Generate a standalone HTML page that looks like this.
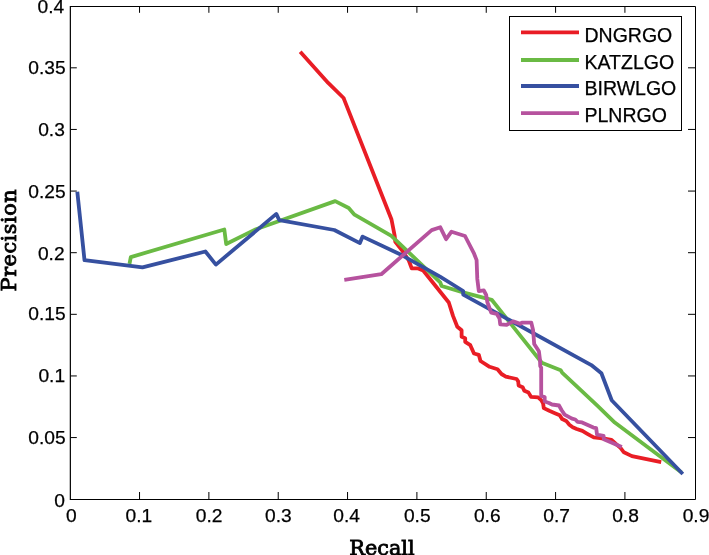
<!DOCTYPE html>
<html><head><meta charset="utf-8"><style>
html,body{margin:0;padding:0;background:#fff;}
svg{display:block;}
.tl{font-family:"Liberation Sans",Arial,sans-serif;font-size:19.2px;fill:#000;stroke:#000;stroke-width:0.25px;}
.al{font-family:"DejaVu Serif","Liberation Serif",serif;font-size:20.8px;fill:#000;stroke:#000;stroke-width:0.85px;}
</style></head><body>
<svg width="709" height="555" viewBox="0 0 709 555">
<rect width="709" height="555" fill="#fff"/>
<g stroke="#000" stroke-width="1" fill="none">
<line x1="139.54" y1="499" x2="139.54" y2="492"/>
<line x1="139.54" y1="7" x2="139.54" y2="12.8"/>
<line x1="208.88" y1="499" x2="208.88" y2="492"/>
<line x1="208.88" y1="7" x2="208.88" y2="12.8"/>
<line x1="278.22" y1="499" x2="278.22" y2="492"/>
<line x1="278.22" y1="7" x2="278.22" y2="12.8"/>
<line x1="347.56" y1="499" x2="347.56" y2="492"/>
<line x1="347.56" y1="7" x2="347.56" y2="12.8"/>
<line x1="416.90" y1="499" x2="416.90" y2="492"/>
<line x1="416.90" y1="7" x2="416.90" y2="12.8"/>
<line x1="486.24" y1="499" x2="486.24" y2="492"/>
<line x1="486.24" y1="7" x2="486.24" y2="12.8"/>
<line x1="555.58" y1="499" x2="555.58" y2="492"/>
<line x1="555.58" y1="7" x2="555.58" y2="12.8"/>
<line x1="624.92" y1="499" x2="624.92" y2="492"/>
<line x1="624.92" y1="7" x2="624.92" y2="12.8"/>
<line x1="70.5" y1="437.57" x2="76.8" y2="437.57"/>
<line x1="695" y1="437.57" x2="688" y2="437.57"/>
<line x1="70.5" y1="375.95" x2="76.8" y2="375.95"/>
<line x1="695" y1="375.95" x2="688" y2="375.95"/>
<line x1="70.5" y1="314.32" x2="76.8" y2="314.32"/>
<line x1="695" y1="314.32" x2="688" y2="314.32"/>
<line x1="70.5" y1="252.70" x2="76.8" y2="252.70"/>
<line x1="695" y1="252.70" x2="688" y2="252.70"/>
<line x1="70.5" y1="191.07" x2="76.8" y2="191.07"/>
<line x1="695" y1="191.07" x2="688" y2="191.07"/>
<line x1="70.5" y1="129.45" x2="76.8" y2="129.45"/>
<line x1="695" y1="129.45" x2="688" y2="129.45"/>
<line x1="70.5" y1="67.82" x2="76.8" y2="67.82"/>
<line x1="695" y1="67.82" x2="688" y2="67.82"/>
<path d="M70,6.5 H695.5 V499.5 H70" stroke-width="1"/>
<line x1="70.35" y1="6" x2="70.35" y2="500" stroke-width="1.2"/>
</g>
<polyline points="300.2,51.8 328.2,82.9 343.6,98.0 344.4,100.1 391.5,219.5 394.6,235.3 395.3,241.8 401.6,249.7 408.8,260.5 411.7,268.4 418.2,268.4 423.2,270.6 429.0,277.8 448.8,302.5 453.0,315.9 457.3,326.7 461.6,330.3 461.6,336.7 465.2,338.2 465.2,341.8 470.3,345.2 474.0,353.5 478.8,354.8 480.5,361.0 489.6,366.8 497.5,369.2 501.5,374.0 505.8,376.6 516.6,379.0 518.2,381.3 518.6,385.4 522.6,387.2 524.4,390.8 528.5,392.6 531.0,396.8 538.2,397.3 541.5,400.5 543.1,403.4 543.8,408.1 549.3,410.8 554.9,413.2 559.7,415.3 562.2,419.1 566.2,420.9 569.4,424.8 572.7,427.2 576.7,429.0 582.4,430.9 586.5,433.3 590.5,435.6 593.8,437.4 600.2,438.0 611.5,439.8 615.4,443.5 620.5,447.9 623.9,452.3 631.9,456.1 661.2,462.2" fill="none" stroke="#e91d25" stroke-width="3.8" stroke-linejoin="round" stroke-linecap="butt"/>
<polyline points="129.5,263.8 130.8,257.1 224.3,229.5 226.2,244.0 256.0,229.2 335.2,201.1 348.7,208.0 354.5,214.7 391.4,235.9 440.2,282.3 441.6,286.0 463.2,292.4 491.7,299.8 541.8,362.7 560.7,370.3 562.1,372.6 596.8,405.2 614.8,422.6 681.6,472.5" fill="none" stroke="#6aba44" stroke-width="3.8" stroke-linejoin="round" stroke-linecap="butt"/>
<polyline points="77.3,191.7 84.5,260.2 142.5,267.4 205.4,251.5 215.9,264.6 276.3,213.9 279.3,220.2 334.3,230.0 359.9,243.1 362.6,236.6 400.0,254.2 440.0,276.7 463.2,291.0 463.2,294.6 591.3,365.1 601.4,373.3 611.5,399.8 612.4,401.0 682.8,474.0" fill="none" stroke="#3650a0" stroke-width="3.8" stroke-linejoin="round" stroke-linecap="butt"/>
<polyline points="344.3,279.8 381.3,274.2 431.7,230.1 440.3,227.3 446.1,239.2 451.5,231.7 465.0,236.0 474.1,253.7 476.6,260.1 477.3,278.9 478.8,291.1 483.8,290.4 486.2,295.0 487.3,302.0 491.2,312.6 496.7,313.8 499.5,318.4 500.2,324.3 506.7,324.8 513.1,321.4 520.2,323.9 522.0,322.6 531.3,322.6 533.1,330.2 534.2,344.0 538.9,351.3 540.0,360.0 540.2,366.0 541.2,367.7 541.2,396.0 544.7,397.0 544.7,401.5 549.0,403.0 552.0,404.5 559.0,405.5 561.5,410.0 564.6,414.6 572.0,418.6 575.3,419.5 577.6,421.8 582.1,422.4 593.4,427.6 596.2,428.2 597.0,434.6 603.6,435.8 603.8,439.2 621.8,447.0" fill="none" stroke="#b6529e" stroke-width="3.8" stroke-linejoin="round" stroke-linecap="butt"/>
<g class="tl">
<text x="71.30" y="521.9" text-anchor="middle">0</text>
<text x="138.94" y="521.9" text-anchor="middle">0.1</text>
<text x="209.19" y="521.9" text-anchor="middle">0.2</text>
<text x="278.33" y="521.9" text-anchor="middle">0.3</text>
<text x="346.68" y="521.9" text-anchor="middle">0.4</text>
<text x="417.22" y="521.9" text-anchor="middle">0.5</text>
<text x="487.27" y="521.9" text-anchor="middle">0.6</text>
<text x="556.71" y="521.9" text-anchor="middle">0.7</text>
<text x="625.56" y="521.9" text-anchor="middle">0.8</text>
<text x="696.00" y="521.9" text-anchor="middle">0.9</text>
<text x="64.90" y="506.75" text-anchor="end">0</text>
<text x="65.60" y="443.74" text-anchor="end">0.05</text>
<text x="65.10" y="382.48" text-anchor="end">0.1</text>
<text x="65.60" y="319.61" text-anchor="end">0.15</text>
<text x="64.65" y="259.50" text-anchor="end">0.2</text>
<text x="65.60" y="198.44" text-anchor="end">0.25</text>
<text x="64.90" y="135.67" text-anchor="end">0.3</text>
<text x="65.60" y="74.06" text-anchor="end">0.35</text>
<text x="64.30" y="13.40" text-anchor="end">0.4</text>
</g>
<g class="tl" style="font-size:19.5px">
<rect x="509.5" y="16.5" width="172" height="114" fill="#fff" stroke="#000" stroke-width="1"/>
<line x1="521" y1="32.4" x2="579" y2="32.4" stroke="#e91d25" stroke-width="3.8"/>
<text x="584.5" y="41.5">DNGRGO</text>
<line x1="521" y1="60.0" x2="579" y2="60.0" stroke="#6aba44" stroke-width="3.8"/>
<text x="584.5" y="69.1">KATZLGO</text>
<line x1="521" y1="86.0" x2="579" y2="86.0" stroke="#3650a0" stroke-width="3.8"/>
<text x="584.5" y="95.1">BIRWLGO</text>
<line x1="521" y1="113.2" x2="579" y2="113.2" stroke="#b6529e" stroke-width="3.8"/>
<text x="584.5" y="122.3">PLNRGO</text>
</g>
<text class="al" x="382" y="555" text-anchor="middle">Recall</text>
<text class="al" transform="translate(16.3,240.4) rotate(-90)" text-anchor="middle" textLength="102">Precision</text>
</svg>
</body></html>
